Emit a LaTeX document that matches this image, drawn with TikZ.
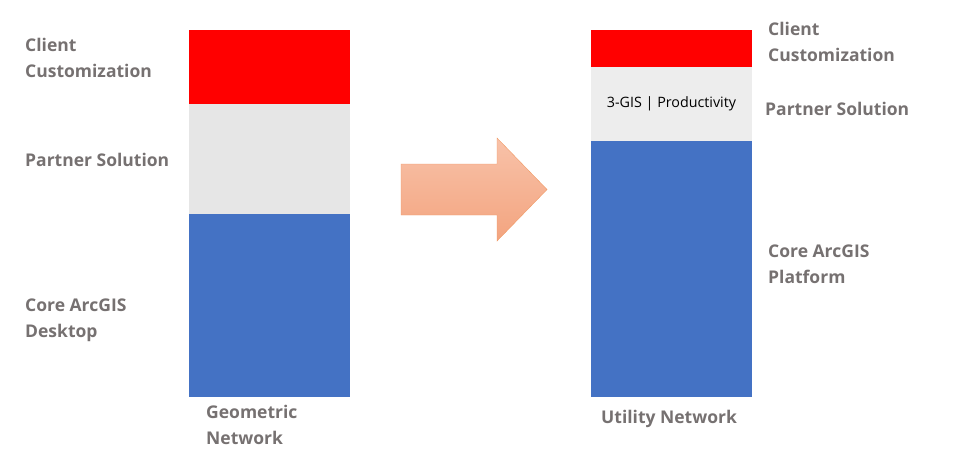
\documentclass[tikz,border=0pt]{standalone}
\usepackage{fontspec}
\setmainfont{Open Sans}
\usepackage{tikz}
\usetikzlibrary{positioning}
\definecolor{segred}{HTML}{FF0000}
\definecolor{seggray}{HTML}{E6E6E6}
\definecolor{seggrayb}{HTML}{EDEDED}
\definecolor{segblue}{HTML}{4472C4}
\definecolor{labelgray}{HTML}{767171}
\definecolor{arrowtop}{HTML}{F8C2A9}
\definecolor{arrowbot}{HTML}{F3A47F}
\definecolor{arrowline}{HTML}{F19A65}

\begin{document}
\begin{tikzpicture}[x=1pt, y=-1pt,
      seg/.style = {inner sep=0pt, outer sep=0pt, minimum width=161pt, anchor=north west},
      lbl/.style = {font=\bfseries\fontsize{17.5}{26}\selectfont, text=labelgray, align=left, anchor=west, inner sep=0pt}]
      \useasboundingbox (0,0) rectangle (956,451);

      % geometric network stack
      \node[seg, fill=segred, minimum height=74pt] (gred) at (189,30) {};
      \node[seg, fill=seggray, minimum height=110pt] (ggray) at (189,104) {};
      \node[seg, fill=segblue, minimum height=183pt] (gblue) at (189,214) {};

      % utility network stack
      \node[seg, fill=segred, minimum height=37pt] (ured) at (591,30) {};
      \node[seg, fill=seggrayb, minimum height=74pt] (ugray) at (591,67) {};
      \node[seg, fill=segblue, minimum height=256pt] (ublue) at (591,141) {};
      \node[font=\fontsize{14.3}{16}\selectfont] (prod) at ([yshift=0.5pt]ugray.center) {3-GIS | Productivity};

      % big arrow
      \draw[draw=arrowline, top color=arrowtop, bottom color=arrowbot]
            (401,164) -- (497,164) -- (497,138) -- (547,189.5) -- (497,241) -- (497,215) -- (401,215) -- cycle;

      % labels left
      \node[lbl] (gclient) at (25,58) {Client\\Customization};
      \node[lbl] (gpartner) at (25,160) {Partner Solution};
      \node[lbl] (gcore) at (25,320) {Core ArcGIS\\Desktop};
      \node[lbl] (gname) at (206,425) {Geometric\\Network};

      % labels right
      \node[lbl] (uclient) at (768,42) {Client\\Customization};
      \node[lbl] (upartner) at (765,109) {Partner Solution};
      \node[lbl] (ucore) at (768,264) {Core ArcGIS\\Platform};
      \node[lbl] (uname) at (601,419) {Utility Network};
    \end{tikzpicture}
\end{document}
